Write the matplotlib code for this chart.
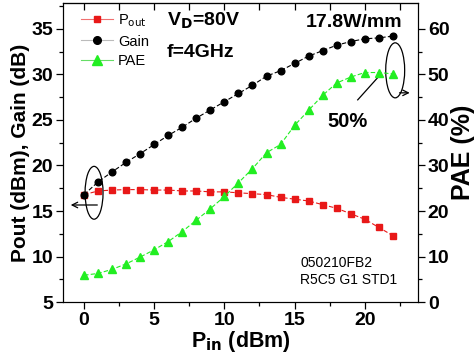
import numpy as np
import matplotlib
matplotlib.use("Agg")
import matplotlib.pyplot as plt
from matplotlib.patches import Ellipse
from matplotlib.lines import Line2D

plt.rcParams['font.family'] = ['Liberation Sans', 'DejaVu Sans']

# data
pin = list(range(0, 23))
pout = [16.8, 17.2, 17.3, 17.35, 17.35, 17.3, 17.3, 17.2, 17.2, 17.1, 17.1, 17.0,
        16.9, 16.8, 16.5, 16.3, 16.1, 15.7, 15.3, 14.7, 14.1, 13.2, 12.3]
gain = [16.8, 18.2, 19.3, 20.35, 21.3, 22.3, 23.3, 24.2, 25.2, 26.1, 27.0, 27.9,
        28.8, 29.8, 30.4, 31.2, 32.0, 32.6, 33.2, 33.6, 33.9, 34.0, 34.2]
pae = [5.9, 6.3, 7.2, 8.4, 9.9, 11.5, 13.3, 15.5, 18.0, 20.5, 23.2, 26.2,
       29.3, 32.8, 34.6, 38.8, 42.1, 45.4, 48.1, 49.4, 50.4, 50.4, 50.1]

fig = plt.figure(figsize=(4.74, 3.64), dpi=100)
ax = fig.add_axes([0.133, 0.170, 0.749, 0.821])
ax2 = ax.twinx()

red = '#e81818'
green = '#22ee22'

ax.plot(pin, pout, ls=(0, (4, 2)), lw=0.8, c=red, marker='s', ms=4.3,
        mfc=red, mec=red, zorder=3)
ax.plot(pin, gain, ls=(0, (4, 2)), lw=0.8, c='k', marker='o', ms=4.8,
        mfc='k', mec='k', zorder=4)
ax2.plot(pin, pae, ls=(0, (4, 2)), lw=0.8, c=green, marker='^', ms=6,
         mfc=green, mec=green)

ax.set_xlim(-1.5, 23.8)
ax.set_ylim(5, 37.8)
ax2.set_ylim(0, 65.6)

ax.set_xticks(np.arange(0, 21, 5))
ax.set_xticks(np.arange(-0.0, 23.8, 2.5), minor=True)
ax.set_yticks(np.arange(5, 36, 5))
ax.set_yticks(np.arange(5, 37.8, 2.5), minor=True)
ax2.set_yticks(np.arange(0, 61, 10))
ax2.set_yticks(np.arange(0, 65, 5), minor=True)

for a in (ax, ax2):
    a.tick_params(which='major', direction='out', length=5, width=0.9)
    a.tick_params(which='minor', direction='out', length=3, width=0.9)
    for lab in a.get_xticklabels() + a.get_yticklabels():
        lab.set_fontsize(14)
        lab.set_fontweight('bold')
ax.tick_params(axis='both', pad=2)
ax2.tick_params(axis='y', pad=2)

top = ax.secondary_xaxis('top')
top.set_xticks(np.arange(0, 23.8, 2.5))
top.tick_params(direction='in', length=5, width=0.9, labeltop=False)

ax.set_xlabel(r'P$_{\mathbf{in}}$ (dBm)', fontsize=15.5, fontweight='bold', labelpad=0)
ax.set_ylabel('Pout (dBm), Gain (dB)', fontsize=15, fontweight='bold', labelpad=1)
ax2.set_ylabel('PAE (%)', fontsize=18, fontweight='bold', labelpad=1)

handles = [
    Line2D([], [], c='#f07070', lw=0.8, marker='s', ms=5, mfc=red, mec=red),
    Line2D([], [], c='#bbbbbb', lw=0.8, marker='o', ms=5.5, mfc='k', mec='k'),
    Line2D([], [], c='#66dd66', lw=0.8, marker='^', ms=6.5, mfc=green, mec=green),
]
ax.legend(handles, [r'P$_{\mathrm{out}}$', 'Gain', 'PAE'], loc='upper left',
          bbox_to_anchor=(0.025, 1.0), borderaxespad=0.2, frameon=False,
          fontsize=10.5, handlelength=2.2, handletextpad=0.35, labelspacing=0.4)

ax.text(0.293, 0.94, r'V$_{\mathbf{D}}$=80V', transform=ax.transAxes,
        fontsize=14, fontweight='bold', va='center', ha='left')
ax.text(0.293, 0.835, 'f=4GHz', transform=ax.transAxes,
        fontsize=14, fontweight='bold', va='center', ha='left')
ax.text(0.955, 0.936, '17.8W/mm', transform=ax.transAxes,
        fontsize=14, fontweight='bold', va='center', ha='right')
ax.text(0.668, 0.13, '050210FB2', transform=ax.transAxes, fontsize=10,
        va='center', ha='left')
ax.text(0.668, 0.074, 'R5C5 G1 STD1', transform=ax.transAxes, fontsize=10,
        va='center', ha='left')

# ellipses and arrows
ax.add_patch(Ellipse((0.71, 17.0), 1.28, 5.8, fill=False, ec='k', lw=0.9, zorder=5))
ax.annotate('', xy=(-1.15, 15.66), xytext=(1.14, 15.66),
            arrowprops=dict(arrowstyle='->', lw=0.9, color='k'))
ax.add_patch(Ellipse((22.17, 30.44), 1.35, 6.04, fill=False, ec='k', lw=0.9, zorder=5))
ax.annotate('', xy=(23.4, 27.97), xytext=(22.28, 27.97),
            arrowprops=dict(arrowstyle='->', lw=0.9, color='k'))
ax.plot([20.9, 19.5], [29.6, 27.2], c='k', lw=0.9)
ax.text(18.8, 24.8, '50%', fontsize=14.5, fontweight='bold', ha='center', va='center')

fig.savefig('out.png', dpi=100)
